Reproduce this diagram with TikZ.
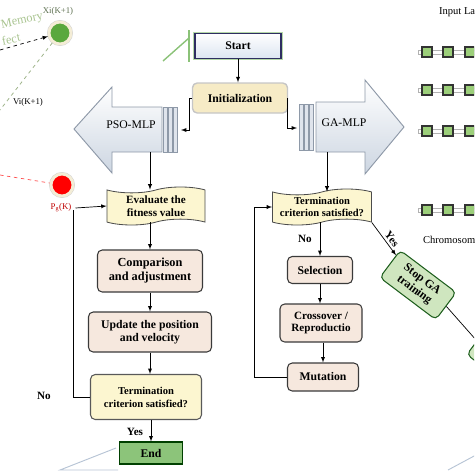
\documentclass[tikz,border=0pt]{standalone}
\usepackage{fontspec}
\setmainfont{Liberation Serif}
\usetikzlibrary{shapes.symbols}

\definecolor{boxline}{HTML}{3A3A3A}
\definecolor{peach}{HTML}{F6E8DE}
\definecolor{cream}{HTML}{F6EBC6}
\definecolor{paleyellow}{HTML}{FCF6D0}
\definecolor{endgreen}{HTML}{8CC47A}
\definecolor{stopgreen}{HTML}{CFE6BF}
\definecolor{startblue}{HTML}{DCE5F1}
\definecolor{arrowgray}{HTML}{8E99A8}
\definecolor{glassblue}{HTML}{B7C4D5}
\definecolor{chromgreen}{HTML}{9CCF7A}
\definecolor{memgreen}{HTML}{A9C490}
\definecolor{leafgreen}{HTML}{5AA83E}
\definecolor{olivetext}{HTML}{5D7050}
\definecolor{halo}{HTML}{F4EDD6}

\tikzset{
  stepbox/.style={draw=boxline, line width=0.9pt, rounded corners=4pt, fill=peach,
    font=\bfseries\fontsize{10}{11}\selectfont, align=center, inner sep=1pt},
  checkbox/.style={stepbox, fill=paleyellow, draw=gray!70!black},
  wavebox/.style={tape, draw=gray!60!black, fill=paleyellow, line width=0.7pt,
    font=\bfseries\fontsize{9.5}{11}\selectfont, align=center, inner sep=1pt, tape bend height=5pt},
  startbox/.style={draw=boxline!80!blue, line width=1pt, top color=white, bottom color=startblue,
    preaction={draw=leafgreen!45, line width=3pt}, font=\bfseries\fontsize{10}{11}\selectfont,
    minimum width=2.58cm, minimum height=0.75cm},
  particle/.style={circle, draw=halo, line width=2.5pt, minimum size=0.66cm,
    preaction={draw=gray!35, line width=3.3pt}},
  lbl/.style={font=\bfseries\fontsize{9.5}{10}\selectfont},
  tag/.style={font=\fontsize{7.5}{9}\selectfont},
  bigarrow/.style={draw=arrowgray, line width=0.8pt, top color=white, bottom color=glassblue!70},
  bar/.style={draw=arrowgray, fill=glassblue!45, line width=0.6pt},
  flow/.style={->, line width=0.6pt},
  deco/.style={glassblue, line width=0.8pt},
}

\begin{document}
\begin{tikzpicture}[x=0.03cm,y=-0.03cm,>=latex]
  \useasboundingbox (0,0) rectangle (474,474);
  \clip (0,0) rectangle (474,474);

  % particle sketch, upper left
  \node[particle, fill=leafgreen] (xi) at (60,33) {};
  \node[tag, text=olivetext] (xilbl) at (58,11) {Xi(K+1)};
  \node[font=\fontsize{10.5}{12}\selectfont, text=memgreen, rotate=12] (memlbl) at (22,21) {Memory};
  \node[font=\fontsize{10.5}{12}\selectfont, text=memgreen, rotate=12] (efflbl) at (11,39) {fect};
  \coordinate (memtail) at (0,50);
  \draw[flow, dashed] (memtail) -- (xi);
  \coordinate (vitail) at (0,110);
  \draw[dashed, memgreen!80!gray, line width=0.7pt] (xi) -- (vitail);
  \node[tag] (vilbl) at (28,102) {Vi(K+1)};
  \node[particle, fill=red] (pg) at (62,185) {};
  \coordinate (pgtail) at (0,175);
  \draw[dashed, red!70, line width=0.6pt] (pgtail) -- (pg);
  \node[tag, text=red!75!black] (pglbl) at (61,208) {P\textsubscript{g}(K)};

  % start / init
  \draw[leafgreen!70, line width=1.2pt] (189,30) -- (189,62);
  \draw[leafgreen!70, line width=1.2pt] (163,61) -- (189,38);
  \node[startbox] (start) at (238,46) {Start};
  \node[stepbox, fill=cream, draw=gray!45, line width=1.2pt, minimum width=2.85cm, minimum height=0.9cm] (init) at (240,98) {Initialization};
  \draw[flow] (start.south) -- (start.south |- init.north);

  % PSO-MLP arrow
  \draw[bigarrow] (74,129) -- (112,87) -- (112,107) -- (162,107) -- (162,152) -- (112,152) -- (112,173) -- cycle;
  \foreach \bx in {163,168,173}
    \draw[bar] (\bx,107) rectangle ++(4.5,45);
  \node[font=\fontsize{10}{11}\selectfont] (pso) at (131,125) {PSO-MLP};
  \coordinate (psoin) at (181,130);
  \coordinate (psobot) at (150,152);

  % GA-MLP arrow
  \draw[bigarrow] (316,102) -- (365,102) -- (365,80) -- (404,127) -- (365,174) -- (365,152) -- (316,152) -- cycle;
  \foreach \bx in {299,304,309}
    \draw[bar] (\bx,104) rectangle ++(4.5,46);
  \node[font=\fontsize{10}{11}\selectfont] (ga) at (344,123) {GA-MLP};
  \coordinate (gain) at (297,128);
  \coordinate (gabot) at (327,152);

  \draw[flow] (init.west) -- ++(-2,0) |- (psoin);
  \draw[flow] (init.east) -- ++(-1,0) |- (gain);

  % PSO column
  \node[wavebox, minimum width=2.94cm, minimum height=1.14cm] (eval) at (156,206) {Evaluate the\\fitness value};
  \node[stepbox, font=\bfseries\fontsize{10.5}{12}\selectfont, minimum width=3.15cm, minimum height=1.26cm] (comp) at (150,271) {Comparison\\and adjustment};
  \node[stepbox, minimum width=3.69cm, minimum height=1.2cm] (upd) at (150,332) {Update the position\\and velocity};
  \node[checkbox, font=\bfseries\fontsize{9}{11}\selectfont, minimum width=3.33cm, minimum height=1.35cm] (termL) at (146,397) {Termination\\criterion satisfied?};
  \node[draw=green!25!black, line width=0.9pt, fill=endgreen, font=\bfseries\fontsize{10}{11}\selectfont, minimum width=1.89cm, minimum height=0.66cm] (endn) at (151,453) {End};

  \draw[flow] (psobot) -- (psobot |- eval.north);
  \draw[flow] (comp.north |- eval.south) -- (comp.north);
  \draw[flow] (comp.south) -- (upd.north);
  \draw[flow] (upd.south) -- (upd.south |- termL.north);
  \draw[flow] (endn.north |- termL.south) -- (endn.north);
  \node[lbl] (yesL) at (135,432) {Yes};
  \node[lbl] (noL) at (44,396) {No};
  \coordinate (fbL) at (73,210);
  \draw[line width=0.6pt] (termL.west) -| (fbL);
  \draw[flow] (pglbl.east) -- (eval.west);
  \draw[deco] (116,448) -- (60,470) -- (118,470);

  % GA column
  \node[wavebox, font=\bfseries\fontsize{9}{10.5}\selectfont, minimum width=2.97cm, minimum height=1.08cm] (termR) at (322,207) {Termination\\criterion satisfied?};
  \node[stepbox, minimum width=1.95cm, minimum height=0.81cm] (sel) at (320,270) {Selection};
  \node[stepbox, font=\bfseries\fontsize{9.5}{11}\selectfont, minimum width=2.46cm, minimum height=1.14cm] (cross) at (321,323) {Crossover /\\Reproductio};
  \node[stepbox, minimum width=2.13cm, minimum height=0.84cm] (mut) at (323,377) {Mutation};
  \node[stepbox, fill=stopgreen, draw=gray!50!green!50!black, rotate=-37, minimum width=2.1cm, minimum height=1.02cm] (stopga) at (418,285) {Stop GA\\training};
  \node[stepbox, fill=stopgreen, draw=gray!50!green!50!black, rotate=-37, minimum width=2.1cm, minimum height=1.02cm] (nextbox) at (505,362) {};

  \draw[flow] (gabot) -- (gabot |- termR.north);
  \draw[flow] (sel.north |- termR.south) -- (sel.north);
  \draw[flow] (sel.south) -- (sel.south |- cross.north);
  \draw[flow] (mut.north |- cross.south) -- (mut.north);
  \draw[flow] (mut.west) -- ++(-33,0) |- (termR.west);
  \draw[flow] (termR.south east) -- (stopga);
  \draw[line width=0.6pt] (stopga.east) -- (nextbox.west);
  \node[lbl] (noR) at (305,239) {No};
  \node[lbl, rotate=-52] (yesR) at (392,239) {Yes};
  \draw[deco] (448,470) -- (476,455);

  % chromosome sketch, right
  \node[font=\fontsize{9}{10}\selectfont, anchor=west] (inlbl) at (435,12) {Input La};
  \foreach \ry in {52,90,131,210} {
    \draw[gray!60, fill=white] (418,\ry-2) rectangle (480,\ry+2);
    \foreach \sx in {427,448,470}
      \draw[fill=chromgreen, draw=black!80, line width=1pt] (\sx-5,\ry-5) rectangle (\sx+5,\ry+5);
  }
  \node[font=\fontsize{9}{10}\selectfont, anchor=west] (chromlbl) at (419,240) {Chromosom};
\end{tikzpicture}
\end{document}
